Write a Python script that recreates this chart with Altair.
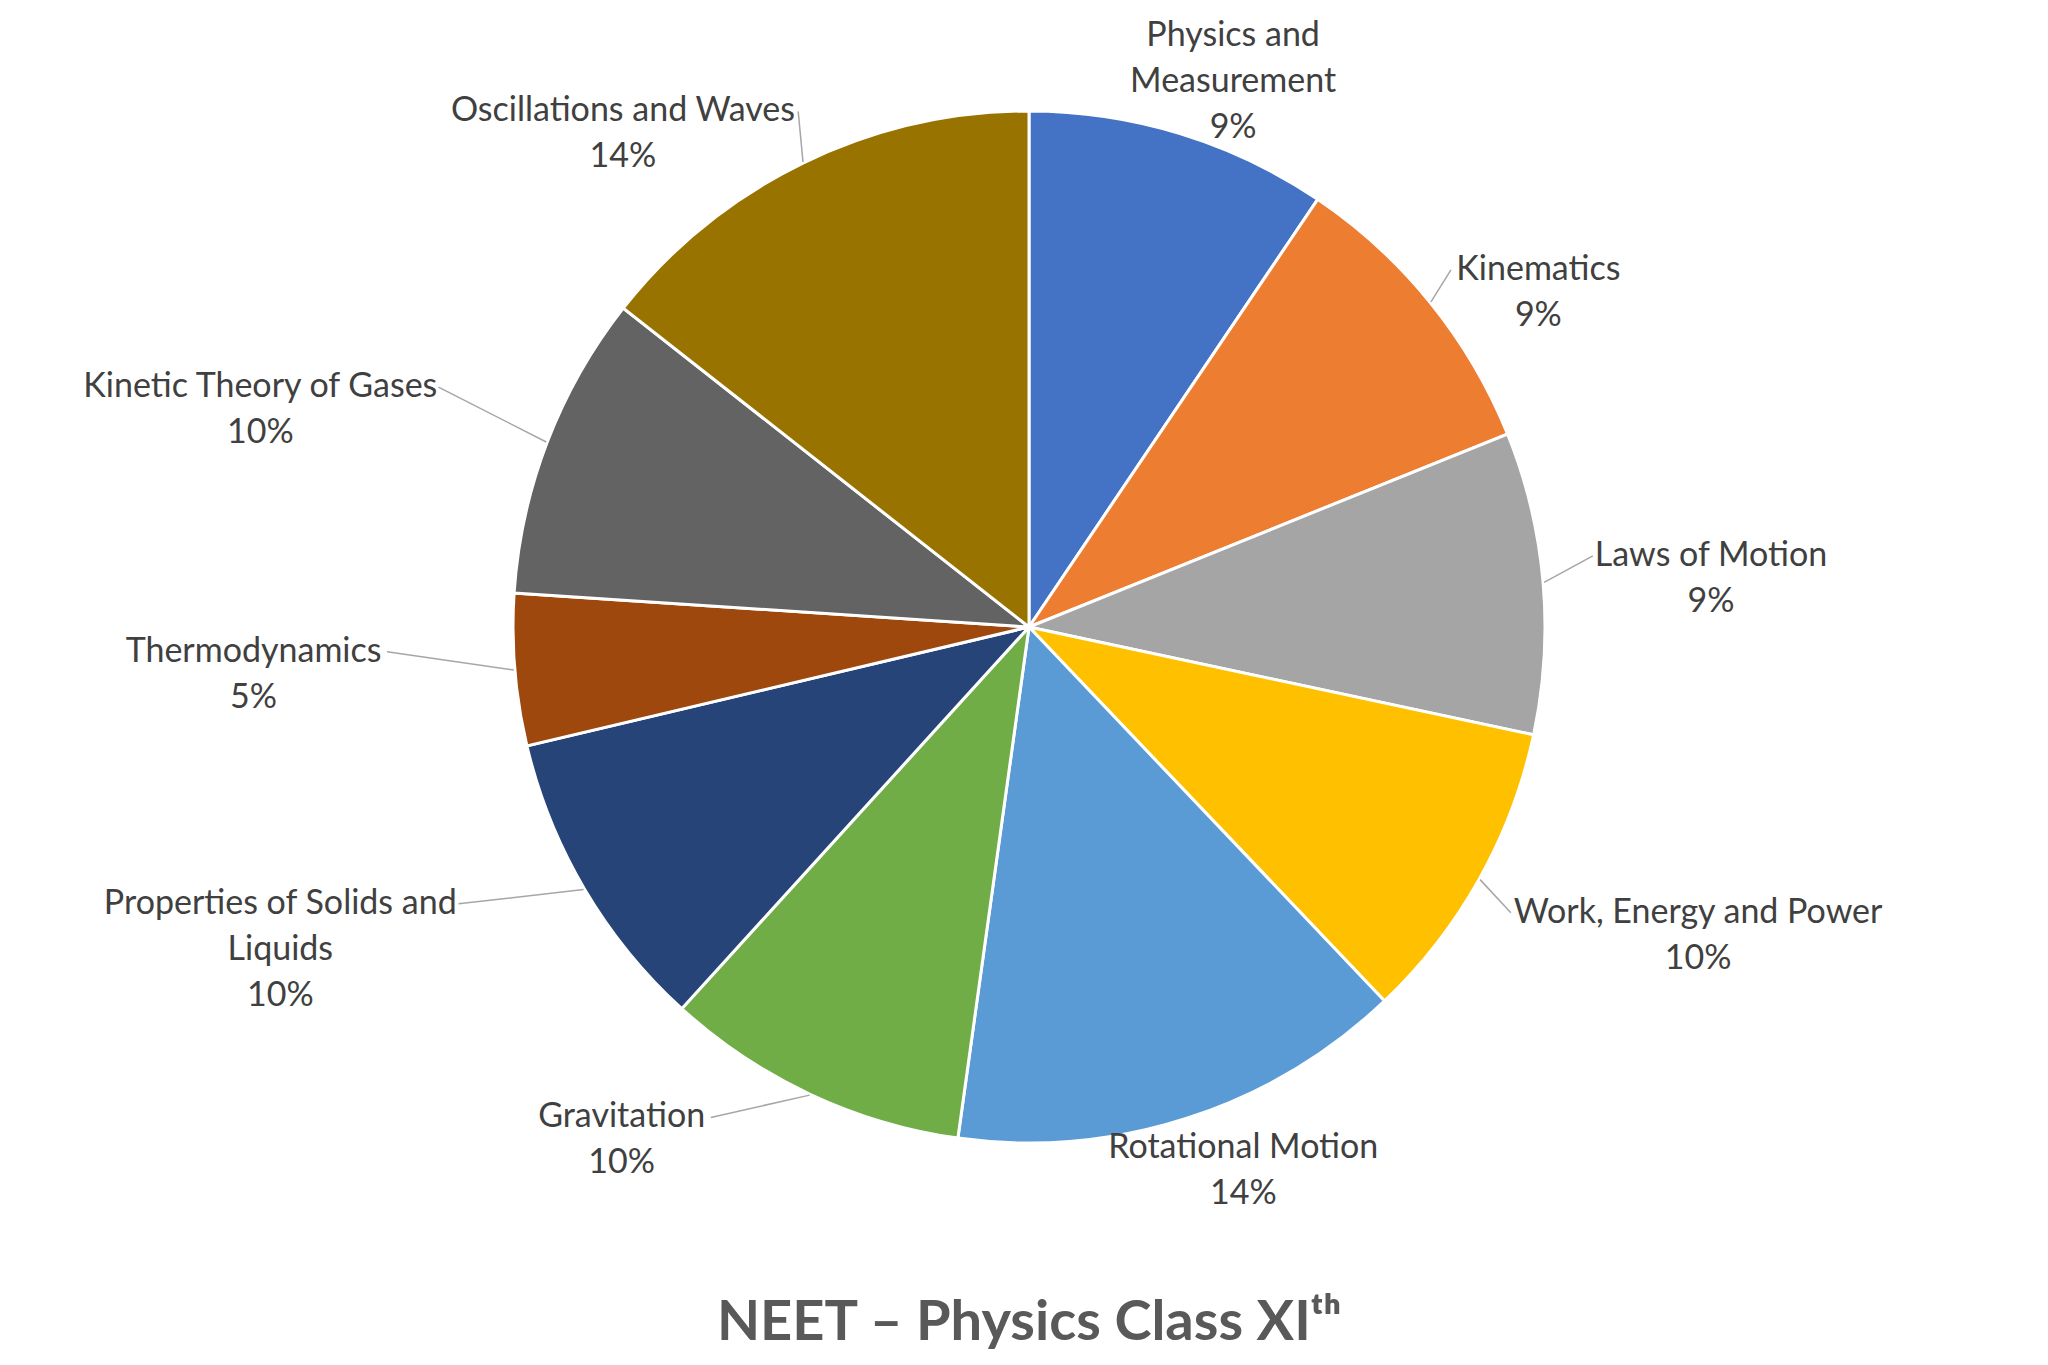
import math
import altair as alt
import pandas as pd

# ---------------- data ----------------
topics = [
    "Physics and Measurement",
    "Kinematics",
    "Laws of Motion",
    "Work, Energy and Power",
    "Rotational Motion",
    "Gravitation",
    "Properties of Solids and Liquids",
    "Thermodynamics",
    "Kinetic Theory of Gases",
    "Oscillations and Waves",
]
shares = [9.45, 9.45, 9.45, 9.55, 14.3, 9.55, 9.55, 4.75, 9.55, 14.4]
pct_labels = ["9%", "9%", "9%", "10%", "14%", "10%", "10%", "5%", "10%", "14%"]
colors = ["#4472C4", "#ED7D31", "#A5A5A5", "#FFC000", "#5B9BD5",
          "#70AD47", "#264478", "#9E480E", "#636363", "#997300"]
wrapped = {
    "Physics and Measurement": ["Physics and", "Measurement"],
    "Properties of Solids and Liquids": ["Properties of Solids and", "Liquids"],
}
title_text = "NEET \u2013 Physics Class XI\u1d57\u02b0"

# ---------------- layout / style ----------------
W, H = 2022, 1238
PAD = {"left": 10, "top": 0, "right": 0, "bottom": 108}
R = 516
FS = 34          # label font size
LH = 46          # label line height
GAP = -8         # gap between label em-box and pie (em box has inner leading)
VK = 0.9         # flattening of the label direction toward the horizontal
GX_R = 65        # extra horizontal push, right side labels (scaled by |sin|)
GX_L = 140       # extra horizontal push, left side labels (constant)
LABEL_FONT = "Lato"

# approximate Lato advance widths (em)
LATO = {' ': 0.193, ',': 0.22, '%': 0.80,
        'a': 0.51, 'b': 0.56, 'c': 0.46, 'd': 0.56, 'e': 0.52, 'f': 0.33, 'g': 0.50,
        'h': 0.56, 'i': 0.24, 'j': 0.24, 'k': 0.51, 'l': 0.24, 'm': 0.84, 'n': 0.56,
        'o': 0.56, 'p': 0.56, 'q': 0.56, 'r': 0.37, 's': 0.42, 't': 0.35, 'u': 0.56,
        'v': 0.50, 'w': 0.77, 'x': 0.49, 'y': 0.50, 'z': 0.45,
        'A': 0.67, 'C': 0.66, 'E': 0.56, 'G': 0.70, 'K': 0.65, 'L': 0.49, 'M': 0.86,
        'O': 0.77, 'P': 0.58, 'R': 0.61, 'S': 0.52, 'T': 0.56, 'W': 0.98}
for d in "0123456789":
    LATO[d] = 0.58


def text_w(s):
    return sum(LATO.get(ch, 0.55) for ch in s) * FS


total = sum(shares)
cx0, cy0 = W / 2, H / 2

rows, leaders = [], []
cum = 0.0
for i, (name, v, pct) in enumerate(zip(topics, shares, pct_labels)):
    mid = cum + v / 2
    cum += v
    a = 2 * math.pi * mid / total
    s, c = math.sin(a), math.cos(a)
    # label direction, flattened toward the horizontal
    ux, uy = s, -c * VK
    un = math.hypot(ux, uy)
    ux, uy = ux / un, uy / un
    lines = wrapped.get(name, [name]) + [pct]
    n = len(lines)
    halfw = [text_w(t) / 2 for t in lines]
    offs = [(k - (n - 1) / 2) * LH for k in range(n)]
    hh = FS / 2
    h = ((n - 1) * LH + FS) / 2
    need = R + GAP

    def clear(dist):
        bx, by = dist * ux, dist * uy
        for wi, oi in zip(halfw, offs):
            dd = math.hypot(max(0.0, abs(bx) - wi), max(0.0, abs(by + oi) - hh))
            if dd < need:
                return False
        return True

    lo, hi = 0.0, 2000.0
    for _ in range(60):
        m = (lo + hi) / 2
        if clear(m):
            hi = m
        else:
            lo = m
    dist = hi
    push = GX_R * s if s >= 0 else -GX_L
    lcx = dist * ux + push
    lcy = dist * uy
    # anchor = top-center of text block (baseline "top")
    ax, ay = lcx, lcy - h
    lab_r = math.hypot(ax, ay)
    ang = math.atan2(ax, -ay) % (2 * math.pi)
    rows.append({
        "idx": i, "topic": name, "share": v,
        "label": "\n".join(lines),
        "lab_theta": ang / (2 * math.pi) * total,
        "lab_r": lab_r,
    })
    # leader line from pie edge to nearest side of the name lines
    ex, ey = (R + 1) * s, -(R + 1) * c
    name_w = max(halfw[:-1]) + 6
    x0, x1 = lcx - name_w, lcx + name_w
    if x0 <= ex <= x1:
        px = ex
        py = lcy - h - 2 if ey < lcy else lcy + h + 2
    else:
        px = x0 if ex < x0 else x1
        ymin = lcy + offs[0]
        ymax = lcy + offs[-2]
        py = min(max(ey, ymin), ymax)
    if math.hypot(px - ex, py - ey) > 25:
        leaders.append({"x1": cx0 + ex, "y1": cy0 + ey,
                        "x2": cx0 + px, "y2": cy0 + py})

df = pd.DataFrame(rows)
lead_df = pd.DataFrame(leaders)

theta_scale = alt.Scale(domain=[0, total])

pie = alt.Chart(df).mark_arc(outerRadius=R, stroke="white", strokeWidth=3).encode(
    theta=alt.Theta("share:Q", stack=True, scale=theta_scale),
    color=alt.Color("topic:N", scale=alt.Scale(domain=topics, range=colors), legend=None),
    order=alt.Order("idx:Q"),
)

lead = alt.Chart(lead_df).mark_rule(color="#A6A6A6", strokeWidth=1.5).encode(
    x=alt.X("x1:Q", scale=None, axis=None),
    y=alt.Y("y1:Q", scale=None, axis=None),
    x2="x2:Q",
    y2="y2:Q",
)

labels = alt.Chart(df).mark_text(
    font=LABEL_FONT, fontSize=FS, lineHeight=LH, lineBreak="\n",
    color="#404040", align="center", baseline="top",
).encode(
    theta=alt.Theta("lab_theta:Q", stack=False, scale=theta_scale),
    radius=alt.Radius("lab_r:Q", scale=None),
    text="label:N",
)

chart = alt.layer(pie, lead, labels).properties(
    width=W,
    height=H,
    padding=PAD,
    autosize=alt.AutoSizeParams(type="none"),
    title=alt.TitleParams(
        text=title_text, orient="bottom", anchor="middle", offset=50,
        font="Lato", fontSize=56, fontWeight="bold", color="#595959",
    ),
).configure_view(strokeWidth=0)

chart.save("out.html", embed_options={"renderer": "svg", "actions": False})
